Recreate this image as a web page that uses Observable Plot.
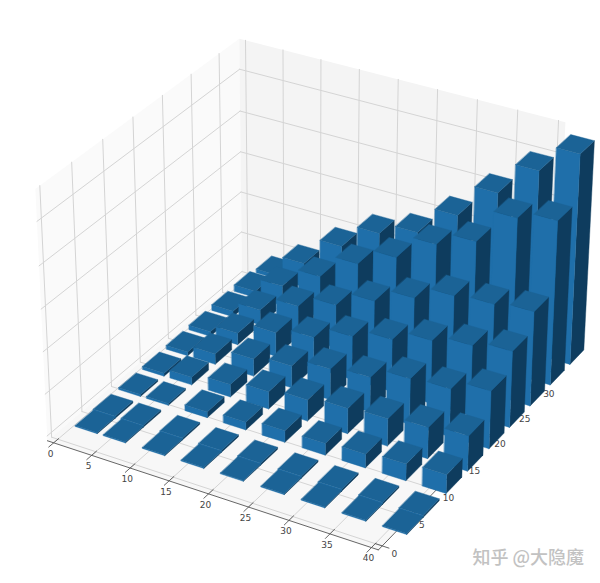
<!DOCTYPE html>
<html><head><meta charset="utf-8">
<style>html,body{margin:0;padding:0;background:#fff}svg{display:block}</style>
<script src="https://cdn.jsdelivr.net/npm/d3@7"></script>
<script src="https://cdn.jsdelivr.net/npm/@observablehq/plot@0.6"></script>
</head><body><div id="chart"></div>
<script>
const xTicks=[0,5,10,15,20,25,30,35,40];
const yTicks=[0,5,10,15,20,25,30];
const zTicks=[0,43,86,128.5,171,214];
const xLim=[0,40], yLim=[0,33], zLim=[0,240];
const colX=[0.8,4.5,9.6,14.6,19.6,24.7,29.7,34.7,39.6];
const rowY=[1.9,4.9,9.2,13.3,17.5,21.6,25.8,30,34.2];
const barX=2.9, barY=3;
const row0=[1,1,1,1,1,1,1,1,1];
const row1=[2,2,2,2,2,2,2,2,2];
const row2=[2,2,6,8,12,12,14,17,19];
const row3=[3,8,13,18,22,26,28,32,36];
const row4=[4,11,18,23,32,36,47,49,59];
const row5=[5,12,25,32,45,54,65,72,78];
const row6=[6,16,32,45,61,76,90,93,97];
const row7=[7,21,43,68,86,111,125,160,168];
const row8=[4,25,55,80,92,121,155,188,215];
const heights=[row0,row1,row2,row3,row4,row5,row6,row7,row8];
const colors={top:"#1b6396",front:"#1f6faa",side:"#0e3c5e",paneX:"#fafafa",paneY:"#f4f4f4",paneZ:"#f7f7f7",grid:"#d4d4d4",axis:"#555"};
const Sx=3185,Sy=3215,cx=305,cy=281.5;

const box=[1.143,1.143,0.857];
const center=box.map(b=>b/2);
const rad=Math.PI/180,el=30*rad,az=-60*rad;
const n=[Math.cos(el)*Math.cos(az),Math.cos(el)*Math.sin(az),Math.sin(el)];
const eye=center.map((c,i)=>c+10*n[i]);
const u=[-n[1],n[0],0].map(v=>v/Math.hypot(n[0],n[1]));
const v=[n[1]*u[2]-n[2]*u[1],n[2]*u[0]-n[0]*u[2],n[0]*u[1]-n[1]*u[0]];
const dot=(a,b)=>a[0]*b[0]+a[1]*b[1]+a[2]*b[2];
function proj(x,y,z){
  const p=[(x-xLim[0])/(xLim[1]-xLim[0])*box[0],(y-yLim[0])/(yLim[1]-yLim[0])*box[1],(z-zLim[0])/(zLim[1]-zLim[0])*box[2]];
  const r=p.map((c,i)=>c-eye[i]);
  const w=-dot(r,n);
  return {px:dot(r,u)/w,py:dot(r,v)/w};
}
const ext=a=>(a[1]-a[0])/48;
const x0=xLim[0]-ext(xLim),x1=xLim[1]+ext(xLim),y0=yLim[0]-ext(yLim),y1=yLim[1]+ext(yLim),z0=zLim[0]-ext(zLim),z1=zLim[1]+ext(zLim);

let id=0;
function poly(list,pts,col){const k=id++;for(const p of pts)list.push({...proj(...p),id:k,col});}
function seg(list,a,b,extra){const k=id++;list.push({...proj(...a),id:k,...extra});list.push({...proj(...b),id:k,...extra});}

const panes=[];
poly(panes,[[x0,y0,z0],[x0,y1,z0],[x0,y1,z1],[x0,y0,z1]],colors.paneX);
poly(panes,[[x0,y1,z0],[x1,y1,z0],[x1,y1,z1],[x0,y1,z1]],colors.paneY);
poly(panes,[[x0,y0,z0],[x1,y0,z0],[x1,y1,z0],[x0,y1,z0]],colors.paneZ);

const grid=[];
for(const t of xTicks){seg(grid,[t,y0,z0],[t,y1,z0]);seg(grid,[t,y1,z0],[t,y1,z1]);}
for(const t of yTicks){seg(grid,[x0,t,z0],[x1,t,z0]);seg(grid,[x0,t,z0],[x0,t,z1]);}
for(const t of zTicks){seg(grid,[x0,y0,t],[x0,y1,t]);seg(grid,[x0,y1,t],[x1,y1,t]);}

const axes=[];
seg(axes,[x0,y0,z0],[x1,y0,z0]);
seg(axes,[x1,y0,z0],[x1,y1,z0]);
const tickLen=0.8;
for(const t of xTicks)seg(axes,[t,y0-tickLen,z0],[t,y0+tickLen,z0]);
for(const t of yTicks)seg(axes,[x1-tickLen,t,z0],[x1+tickLen,t,z0]);

const xLabels=xTicks.map(t=>({...proj(t,y0,z0),t}));
const yLabels=yTicks.map(t=>({...proj(x1,t,z0),t}));

const faces=[];
for(let r=heights.length-1;r>=0;r--){
  for(let c=0;c<colX.length;c++){
    const a=colX[c],b=a+barX,f=rowY[r],g=f+barY,h=heights[r][c];
    poly(faces,[[b,f,0],[b,g,0],[b,g,h],[b,f,h]],colors.side);
    poly(faces,[[a,f,0],[b,f,0],[b,f,h],[a,f,h]],colors.front);
    poly(faces,[[a,f,h],[b,f,h],[b,g,h],[a,g,h]],colors.top);
  }
}

const chart=Plot.plot({
  width:600,height:583,margin:0,
  x:{axis:null,domain:[(0-cx)/Sx,(600-cx)/Sx],range:[0,600]},
  y:{axis:null,domain:[cy/Sy,(cy-583)/Sy],range:[0,583]},
  color:{type:"identity"},
  style:{background:"#fff"},
  marks:[
    Plot.line(panes,{x:"px",y:"py",z:"id",fill:"col",stroke:"none",curve:"linear-closed"}),
    Plot.line(grid,{x:"px",y:"py",z:"id",stroke:colors.grid,strokeWidth:1}),
    Plot.line(axes,{x:"px",y:"py",z:"id",stroke:colors.axis,strokeWidth:0.9}),
    Plot.text(xLabels,{x:"px",y:"py",text:"t",dx:-3,dy:11,fontSize:9,fill:"#444",fontFamily:"DejaVu Sans"}),
    Plot.text(yLabels,{x:"px",y:"py",text:"t",dx:12,dy:8,fontSize:9,fill:"#444",fontFamily:"DejaVu Sans"}),
    Plot.line(faces,{x:"px",y:"py",z:"id",fill:"col",stroke:"col",strokeWidth:0.4,curve:"linear-closed"}),
    Plot.text(["知乎 @大隐魔"],{frameAnchor:"top-left",dx:472,dy:551,text:d=>d,fontSize:18,fontWeight:500,fill:"#c2c2c2",textAnchor:"start",fontFamily:"Noto Sans CJK SC"})
  ]
});
document.getElementById("chart").append(chart);
</script></body></html>
